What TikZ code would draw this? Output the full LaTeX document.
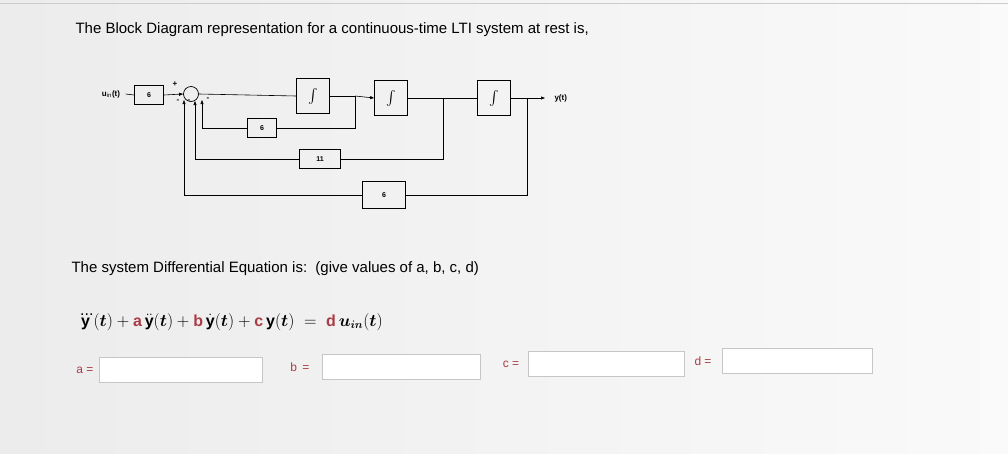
\documentclass[tikz,border=0pt]{standalone}
\usepackage{amsmath,bm}
\usepackage{fontspec}
\setmainfont{Liberation Sans}
\newfontfamily\serifm{Liberation Serif}
\usetikzlibrary{arrows.meta}
\definecolor{lbl}{RGB}{170,60,70}
\begin{document}
\begin{tikzpicture}[x=1pt,y=-1pt,
  blk/.style={draw,line width=0.7pt,minimum width=29pt,minimum height=19pt,inner sep=0pt,font=\fontsize{7}{8}\selectfont\bfseries},
  intb/.style={draw,line width=0.7pt,minimum width=33pt,minimum height=35pt,inner sep=0pt,font=\fontsize{14}{14}\selectfont},
  ln/.style={line width=0.6pt},
  arr/.style={ln,-{Triangle[length=4pt,width=3pt]}},
  fld/.style={draw=gray!45,fill=white,line width=0.6pt,minimum height=25pt,inner sep=0pt},
  lab/.style={font=\fontsize{12}{12}\selectfont,text=lbl}]
\fill[left color=gray!15,right color=gray!4] (0,0) rectangle (1008,453);
\useasboundingbox (0,0) rectangle (1008,453);
\draw[gray!40] (0,3) -- (1008,3);
\node[anchor=west,font=\fontsize{15}{15}\selectfont] (title) at (72,30) {The Block Diagram representation for a continuous-time LTI system at rest is,};
% diagram
\node[font=\fontsize{8}{8}\selectfont\bfseries] (u) at (111,94) {u$_{\mathrm{in}}$(t)};
\node[blk] (g) at (149,95) {6};
\node[draw,circle,line width=0.7pt,minimum size=15pt,inner sep=0pt] (s) at (191,94) {};
\node[intb] (i1) at (313,96) {$\int$};
\node[intb] (i2) at (391,98) {$\int$};
\node[intb] (i3) at (494,98) {$\int$};
\node[blk] (f1) at (262,128) {6};
\node[blk,minimum width=41pt] (f2) at (320,159) {11};
\node[blk,minimum width=43pt,minimum height=27pt] (f3) at (384,195) {6};
\node[font=\fontsize{8}{8}\selectfont\bfseries,anchor=west] (y) at (551,98) {y(t)};
\coordinate (b1) at (355,96);
\coordinate (b2) at (443,98);
\coordinate (b3) at (527,98);
\coordinate (e) at (545,98);
\draw[ln] (u.east) ++(2pt,0) -- (g.west);
\draw[arr] (g.east) -- (s.west);
\draw[ln] (s.east) -- (i1.west);
\draw[ln] (i1.east) -- (b1);
\draw[arr] (b1) -- (i2.west);
\draw[ln] (i2.east) -- (i3.west);
\draw[arr] (i3.east) -- (e);
\draw[ln] (b1) |- (f1.east);
\draw[arr] (f1.west) -| (202,100);
\draw[ln] (b2) |- (f2.east);
\draw[arr] (f2.west) -| (195,101);
\draw[ln] (b3) |- (f3.east);
\draw[arr] (f3.west) -| (184,100);
\node[font=\fontsize{8}{8}\selectfont\bfseries] (plus) at (175,84) {+};
\node[font=\fontsize{8}{8}\selectfont\bfseries] (m1) at (178,101) {-};
\node[font=\fontsize{8}{8}\selectfont\bfseries] (m2) at (189,101) {-};
\node[font=\fontsize{8}{8}\selectfont\bfseries] (m3) at (208,99) {-};
% text
\node[anchor=west,font=\fontsize{15}{15}\selectfont] (q) at (68,269) {The system Differential Equation is:\ \ (give values of a, b, c, d)};
\node[anchor=west,font=\fontsize{16}{16}\selectfont] (eq) at (74,322)
 {$\dddot{\mathbf y}(\bm t)+{\color{lbl}\mathbf a}\,\ddot{\mathbf y}(\bm t)+{\color{lbl}\mathbf b}\,\dot{\mathbf y}(\bm t)+{\color{lbl}\mathbf c}\,\mathbf y(\bm t)\;=\;{\color{lbl}\mathbf d}\,\bm{u_{in}}(\bm t)$};
\node[lab] (la) at (85,370) {a =};
\node[fld,minimum width=163pt,anchor=west] (fa) at (99,370) {};
\node[lab] (lb) at (300,367) {b \,=};
\node[fld,minimum width=158pt,anchor=west] (fb) at (322,367) {};
\node[lab] (lc) at (511,364) {c =};
\node[fld,minimum width=156pt,anchor=west] (fc) at (528,364) {};
\node[lab] (ld) at (703,361) {d =};
\node[fld,minimum width=150pt,anchor=west] (fd) at (722,361) {};
\end{tikzpicture}
\end{document}
